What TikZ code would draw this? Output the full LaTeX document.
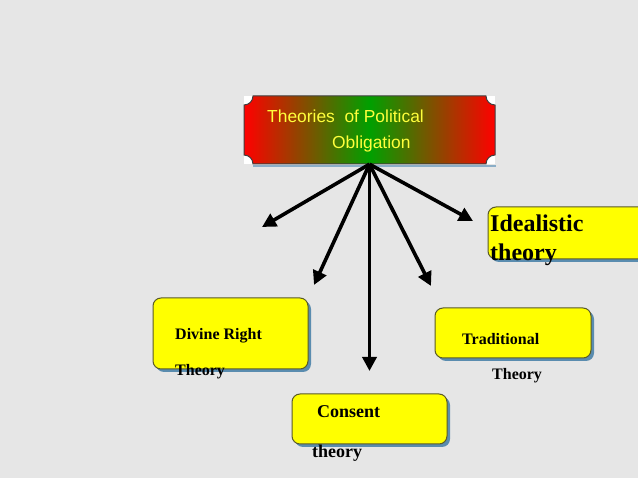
\documentclass[tikz,border=0pt]{standalone}
\usepackage{fontspec}
\setmainfont{Liberation Serif}
\newfontfamily\headfont{Liberation Sans}
\usetikzlibrary{arrows.meta,shadows}
\definecolor{slidegray}{RGB}{230,230,230}
\definecolor{boxyellow}{RGB}{255,255,0}
\definecolor{boxedge}{RGB}{90,90,40}
\definecolor{shadowblue}{RGB}{90,140,175}
\definecolor{midgreen}{RGB}{0,160,0}
\definecolor{headtext}{RGB}{255,255,60}

\begin{document}
\begin{tikzpicture}[x=1pt,y=-1pt,line join=round]
\tikzstyle{theorybox}=[rectangle,rounded corners=8pt,inner sep=0pt,fill=boxyellow,draw=boxedge,line width=1pt,drop shadow={shadow xshift=3pt,shadow yshift=-3pt,fill=shadowblue,opacity=1}]
\tikzstyle{boxtext}=[anchor=base west,inner sep=0pt,text=black,font=\fontsize{16}{18}\selectfont\bfseries]
\tikzstyle{headline}=[anchor=base west,inner sep=0pt,text=headtext,font=\fontsize{17.4}{19}\selectfont\headfont]
\tikzstyle{branch}=[-{Triangle[length=14pt,width=14pt]},line width=3.6pt,draw=black]
\useasboundingbox (0,0) rectangle (638,478);
\clip (0,0) rectangle (638,478);
\fill[slidegray] (0,0) rectangle (638,478);

% heading box with cut corners
\node[minimum width=251pt,minimum height=68pt,inner sep=0pt] (head) at (369.5,130) {};
\fill[white] (head.north west) rectangle (head.south east);
\draw[shadowblue!70,line width=1.5pt] (253,166) -- (496,166);
\shadedraw[left color=red,right color=red,middle color=midgreen,draw=black!75,line width=1pt]
  (244,105) arc[start angle=90,end angle=0,radius=9] -- (486,96)
  arc[start angle=180,end angle=90,radius=9] -- (495,155)
  arc[start angle=270,end angle=180,radius=9] -- (253,164)
  arc[start angle=0,end angle=-90,radius=9] -- cycle;
\node[headline] (head1) at (267,123) {Theories\ \ of Political};
\node[headline] (head2) at (332,149) {Obligation};

% theory boxes
\node[theorybox,minimum width=155pt,minimum height=71pt] (divine) at (230.5,333.5) {};
\node[theorybox,minimum width=155pt,minimum height=50pt] (consent) at (369.5,419) {};
\node[theorybox,minimum width=156pt,minimum height=50pt] (traditional) at (513,333) {};
\node[theorybox,minimum width=162pt,minimum height=52pt] (idealistic) at (569,233) {};

\node[boxtext] (divine1) at (175,340) {Divine Right};
\node[boxtext] (divine2) at (175,376) {Theory};
\node[boxtext,font=\fontsize{18}{20}\selectfont\bfseries] (consent1) at (317,418) {Consent};
\node[boxtext,font=\fontsize{18}{20}\selectfont\bfseries] (consent2) at (312,458) {theory};
\node[boxtext] (trad1) at (462,345) {Traditional};
\node[boxtext] (trad2) at (492,380) {Theory};
\node[boxtext,font=\fontsize{24}{26}\selectfont\bfseries] (ideal1) at (490,232) {Idealistic};
\node[boxtext,font=\fontsize{24}{26}\selectfont\bfseries] (ideal2) at (490,261) {theory};

% arrow ends
\coordinate (a1) at (262,227);
\coordinate (a2) at (314,285);
\coordinate (a3) at (369.5,371);
\coordinate (a4) at (431,286);
\coordinate (a5) at (473,221);

\draw[branch] (head.south) -- (a1);
\draw[branch] (head.south) -- (a2);
\draw[branch] (head.south) -- (a3);
\draw[branch] (head.south) -- (a4);
\draw[branch] (head.south) -- (a5);

\end{tikzpicture}
\end{document}
